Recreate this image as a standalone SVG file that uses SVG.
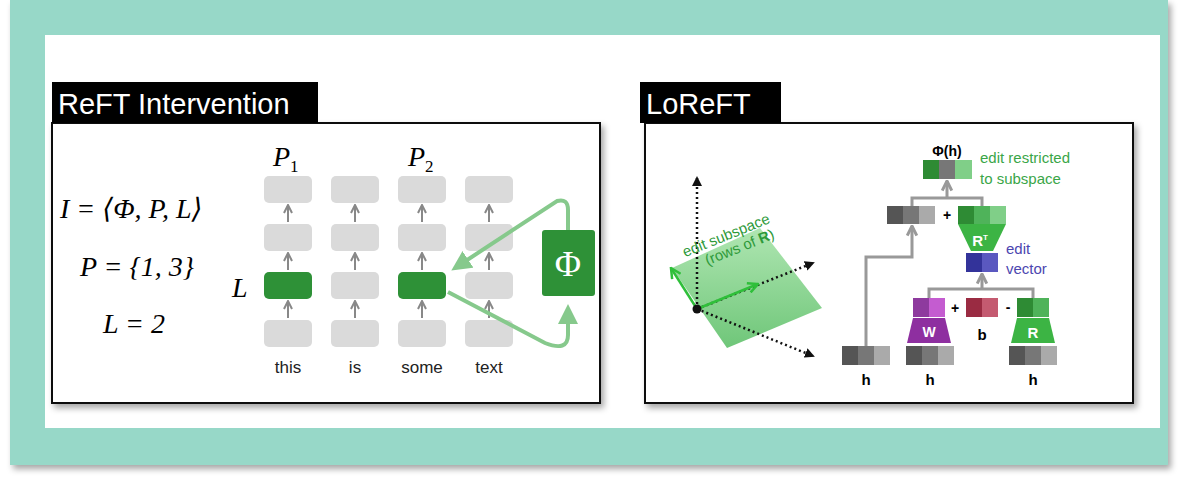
<svg xmlns="http://www.w3.org/2000/svg" width="1200" height="497" viewBox="0 0 1200 497">
<defs>
<style>
.sans{font-family:"Liberation Sans",Arial,sans-serif}
.math{font-family:"Liberation Serif","DejaVu Serif",serif;font-style:italic}
.cell{fill:#dadada}
.ga{stroke:#888;stroke-width:2;fill:none}
.conn{stroke:#999;stroke-width:3;fill:none}
.dot{stroke:#111;stroke-width:2.5;stroke-dasharray:2 3;fill:none}
</style>
<marker id="gh" viewBox="0 0 10 10" refX="9" refY="5" markerWidth="5" markerHeight="5" orient="auto"><path d="M1,1 L9,5 L1,9" fill="none" stroke="#888" stroke-width="2"/></marker>
<marker id="ch" viewBox="0 0 10 10" refX="9" refY="5" markerWidth="4" markerHeight="4" orient="auto"><path d="M1,1 L9,5 L1,9" fill="none" stroke="#999" stroke-width="2.5"/></marker>
<marker id="bh" viewBox="0 0 10 10" refX="8" refY="5" markerWidth="4" markerHeight="4" orient="auto"><path d="M0,0 L10,5 L0,10z" fill="#111"/></marker>
<marker id="grh" viewBox="0 0 10 10" refX="9" refY="5" markerWidth="5" markerHeight="5" orient="auto"><path d="M1,1 L9,5 L1,9" fill="none" stroke="#2fbf3a" stroke-width="2"/></marker>
<marker id="lgh" viewBox="0 0 10 10" refX="6" refY="5" markerWidth="5" markerHeight="5" orient="auto"><path d="M0,0 L10,5 L0,10z" fill="#86c98c"/></marker>
<linearGradient id="pl" x1="0" y1="0" x2="0" y2="1"><stop offset="0" stop-color="#a6e3a9"/><stop offset="1" stop-color="#5fc06a"/></linearGradient>
<filter id="sh" x="-5%" y="-5%" width="110%" height="115%"><feDropShadow dx="3" dy="4" stdDeviation="3" flood-opacity="0.35"/></filter>
</defs>
<rect width="1200" height="497" fill="#fff"/>
<rect x="10" y="0" width="1158" height="465" fill="#97d8c8" filter="url(#sh)"/>
<rect x="45" y="35" width="1115" height="393" fill="#fff"/>

<g id="reft-panel">
<rect x="52" y="123" width="548" height="280" fill="#fff" stroke="#111" stroke-width="2" filter="url(#sh)"/>
<rect x="52" y="82" width="266" height="41" fill="#000"/>
<text x="58" y="114" class="sans" font-size="29" fill="#fff">ReFT Intervention</text>
<text x="60" y="218" class="math" font-size="28">I = ⟨Φ, P, L⟩</text>
<text x="80" y="276" class="math" font-size="28">P = {1, 3}</text>
<text x="103" y="333" class="math" font-size="28">L = 2</text>
<text x="273" y="166" class="math" font-size="28">P<tspan font-size="17" font-style="normal" dy="6">1</tspan></text>
<text x="408" y="166" class="math" font-size="28">P<tspan font-size="17" font-style="normal" dy="6">2</tspan></text>
<text x="232" y="297" class="math" font-size="28">L</text>
</g>
<g id="grid">
<g id="col1"><rect class="cell" x="264" y="176" width="48" height="27" rx="5"/><rect class="cell" x="264" y="224" width="48" height="27" rx="5"/><rect x="264" y="272" width="48" height="27" rx="5" fill="#2e9137"/><rect class="cell" x="264" y="320" width="48" height="27" rx="5"/></g>
<g id="col2"><rect class="cell" x="331" y="176" width="48" height="27" rx="5"/><rect class="cell" x="331" y="224" width="48" height="27" rx="5"/><rect class="cell" x="331" y="272" width="48" height="27" rx="5"/><rect class="cell" x="331" y="320" width="48" height="27" rx="5"/></g>
<g id="col3"><rect class="cell" x="398" y="176" width="48" height="27" rx="5"/><rect class="cell" x="398" y="224" width="48" height="27" rx="5"/><rect x="398" y="272" width="48" height="27" rx="5" fill="#2e9137"/><rect class="cell" x="398" y="320" width="48" height="27" rx="5"/></g>
<g id="col4"><rect class="cell" x="465" y="176" width="48" height="27" rx="5"/><rect class="cell" x="465" y="224" width="48" height="27" rx="5"/><rect class="cell" x="465" y="272" width="48" height="27" rx="5"/><rect class="cell" x="465" y="320" width="48" height="27" rx="5"/></g>
<g class="sans" font-size="17" text-anchor="middle" fill="#222"><text x="288" y="373">this</text><text x="355" y="373">is</text><text x="422" y="373">some</text><text x="489" y="373">text</text></g>
</g>
<g id="phi"><rect x="542" y="230" width="53" height="66" rx="3" fill="#2e9137"/><text x="568" y="276" text-anchor="middle" font-family="Liberation Serif,serif" font-size="36" fill="#fff">Φ</text></g>

<g id="connectors">
<g class="ga" marker-end="url(#gh)">
<path d="M288,318 V301"/><path d="M288,270 V253"/><path d="M288,222 V205"/>
<path d="M355,318 V301"/><path d="M355,270 V253"/><path d="M355,222 V205"/>
<path d="M422,318 V301"/><path d="M422,270 V253"/><path d="M422,222 V205"/>
<path d="M489,318 V301"/><path d="M489,270 V253"/><path d="M489,222 V205"/>
</g>
<path d="M568,230 V210 Q568,198 557,201 L458,266" stroke="#86c98c" stroke-width="4" fill="none" marker-end="url(#lgh)"/>
<path d="M448,292 L545,343 Q568,352 568,335 V312" stroke="#86c98c" stroke-width="4" fill="none" marker-end="url(#lgh)"/>
</g>

<g id="loreft-panel">
<rect x="645" y="123" width="488" height="280" fill="#fff" stroke="#111" stroke-width="2" filter="url(#sh)"/>
<rect x="640" y="82" width="141" height="41" fill="#000"/>
<text x="646" y="114" class="sans" font-size="29" fill="#fff">LoReFT</text>
</g>
<g id="subspace">
<polygon points="672,268 760,228 822,308 727,348" fill="url(#pl)" opacity="0.9"/>
<path class="dot" d="M697,309 V178" marker-end="url(#bh)"/>
<path class="dot" d="M697,309 L813,263" marker-end="url(#bh)"/>
<path class="dot" d="M697,309 L813,356" marker-end="url(#bh)"/>
<path d="M697,309 L758,284" stroke="#2fbf3a" stroke-width="2.5" fill="none" marker-end="url(#grh)"/>
<path d="M697,309 L671,268" stroke="#2fbf3a" stroke-width="2.5" fill="none" marker-end="url(#grh)"/>
<circle cx="697" cy="309" r="4.5" fill="#111"/>
<g transform="rotate(-22 728 240)" class="sans" font-size="15" fill="#2e9a3a" text-anchor="middle"><text x="728" y="240">edit subspace</text><text x="736" y="256">(rows of <tspan font-weight="bold">R</tspan>)</text></g>
</g>
<g id="phi-h"><text x="947" y="156" class="sans" font-size="14" font-weight="bold" text-anchor="middle">Φ(h)</text>
<rect x="923" y="160" width="16" height="19" fill="#2e8b34"/><rect x="939" y="160" width="16" height="19" fill="#777"/><rect x="955" y="160" width="17" height="19" fill="#80cf88"/>
<g class="sans" font-size="15" fill="#3aa648"><text x="980" y="163">edit restricted</text><text x="980" y="184">to subspace</text></g></g>
<g id="h-sum"><rect x="887" y="206" width="16" height="18" fill="#555"/><rect x="903" y="206" width="16" height="18" fill="#777"/><rect x="919" y="206" width="16" height="18" fill="#aaa"/>
<text x="947" y="220" class="sans" font-size="14" font-weight="bold" text-anchor="middle">+</text>
<rect x="958" y="206" width="16" height="18" fill="#2e8b34"/><rect x="974" y="206" width="16" height="18" fill="#4fb35a"/><rect x="990" y="206" width="16" height="18" fill="#80cf88"/></g>
<g id="RT"><polygon points="958,224 1006,224 993,251 971,251" fill="#3cb444"/><text x="980" y="246" class="sans" font-size="15" font-weight="bold" fill="#fff" text-anchor="middle">R<tspan font-size="8" dy="-6">T</tspan></text></g>
<g id="edit-vector"><rect x="966" y="253" width="16" height="19" fill="#33339a"/><rect x="982" y="253" width="16" height="19" fill="#5a58c0"/>
<g class="sans" font-size="15" fill="#4c46b0"><text x="1006" y="254">edit</text><text x="1006" y="274">vector</text></g></g>
<g id="W-out"><rect x="913" y="298" width="16" height="19" fill="#8e3a9e"/><rect x="929" y="298" width="16" height="19" fill="#c45cd0"/>
<polygon points="913,318 945,318 951,343 907,343" fill="#8e2fa0"/><text x="929" y="337" class="sans" font-size="14" font-weight="bold" fill="#fff" text-anchor="middle">W</text></g>
<text x="955" y="313" class="sans" font-size="14" font-weight="bold" text-anchor="middle">+</text>
<g id="b"><rect x="966" y="298" width="16" height="19" fill="#9a2b42"/><rect x="982" y="298" width="16" height="19" fill="#c45a70"/><text x="982" y="340" class="sans" font-size="15" font-weight="bold" text-anchor="middle">b</text></g>
<text x="1008" y="312" class="sans" font-size="14" font-weight="bold" text-anchor="middle">-</text>
<g id="R-out"><rect x="1017" y="298" width="16" height="19" fill="#2e8b34"/><rect x="1033" y="298" width="16" height="19" fill="#4fb35a"/>
<polygon points="1017,318 1049,318 1055,343 1011,343" fill="#3cb444"/><text x="1033" y="338" class="sans" font-size="15" font-weight="bold" fill="#fff" text-anchor="middle">R</text></g>
<g id="h-inputs">
<rect x="842" y="346" width="16" height="19" fill="#555"/><rect x="858" y="346" width="16" height="19" fill="#777"/><rect x="874" y="346" width="16" height="19" fill="#aaa"/>
<rect x="906" y="346" width="16" height="19" fill="#555"/><rect x="922" y="346" width="16" height="19" fill="#777"/><rect x="938" y="346" width="16" height="19" fill="#aaa"/>
<rect x="1009" y="346" width="16" height="19" fill="#555"/><rect x="1025" y="346" width="16" height="19" fill="#777"/><rect x="1041" y="346" width="16" height="19" fill="#aaa"/>
<g class="sans" font-size="15" font-weight="bold" text-anchor="middle"><text x="866" y="385">h</text><text x="930" y="385">h</text><text x="1033" y="385">h</text></g>
</g>
<g id="connectors-right">
<path class="conn" d="M912,206 V198 H982 V206"/>
<path class="conn" d="M947,198 V181" marker-end="url(#ch)"/>
<path class="conn" d="M929,298 V289 H1033 V298"/>
<path class="conn" d="M982,289 V274" marker-end="url(#ch)"/>
<path class="conn" d="M866,346 V257 H912 V226" marker-end="url(#ch)"/>
</g>
</svg>
